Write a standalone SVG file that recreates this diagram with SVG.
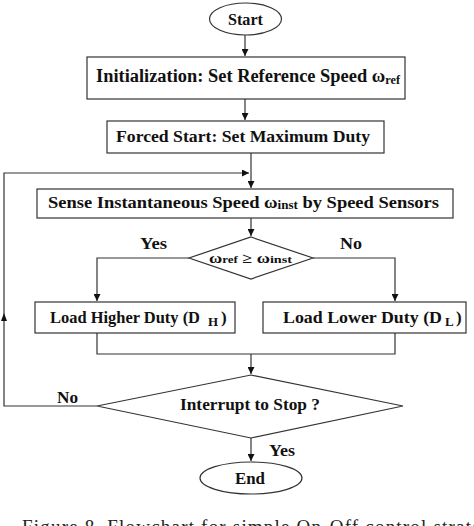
<svg xmlns="http://www.w3.org/2000/svg" width="474" height="526" viewBox="0 0 474 526">
<defs>
<marker id="ah" viewBox="0 0 10 10" refX="10" refY="5" markerWidth="7" markerHeight="7" markerUnits="userSpaceOnUse" orient="auto">
<path d="M0,0 L10,5 L0,10 z" fill="#111"/>
</marker>
<style>
.shape{fill:#fff;stroke:#333;stroke-width:1.2}
.line{fill:none;stroke:#333;stroke-width:1.2}
.t{font-family:"Liberation Serif","Times New Roman",serif;font-weight:bold;fill:#111}
.sub{font-size:12px}
.cap{font-family:"Liberation Serif","Times New Roman",serif;fill:#222;font-size:19px}
</style>
</defs>
<rect width="474" height="526" fill="#fff"/>
<g id="connectors">
<path class="line" d="M245,35 V56" marker-end="url(#ah)"/>
<path class="line" d="M245,99 V120" marker-end="url(#ah)"/>
<path class="line" d="M251,153 V188" marker-end="url(#ah)"/>
<path class="line" d="M251,218 V236" marker-end="url(#ah)"/>
<path class="line" d="M189,258 H97 V301" marker-end="url(#ah)"/>
<path class="line" d="M313,258 H395 V301" marker-end="url(#ah)"/>
<path class="line" d="M97,333 V354 H395 V333"/>
<path class="line" d="M251,354 V374" marker-end="url(#ah)"/>
<path class="line" d="M251,438 V461" marker-end="url(#ah)"/>
<path class="line" d="M97,406 H4 V173 H249" marker-end="url(#ah)"/>
<path d="M1,321 L4,313 L7,321 z" fill="#111"/>
</g>
<g id="start">
<ellipse class="shape" cx="245.5" cy="19" rx="36" ry="16"/>
<text class="t" x="228" y="25" font-size="16" textLength="35" lengthAdjust="spacingAndGlyphs">Start</text>
</g>
<g id="init">
<rect class="shape" x="87" y="57" width="318" height="42"/>
<text class="t" x="96" y="82" font-size="18" textLength="304" lengthAdjust="spacingAndGlyphs">Initialization:  Set Reference Speed ω<tspan class="sub" dy="2">ref</tspan></text>
</g>
<g id="forced">
<rect class="shape" x="107" y="121" width="277" height="32"/>
<text class="t" x="116" y="142" font-size="17" textLength="254" lengthAdjust="spacingAndGlyphs">Forced Start: Set Maximum Duty</text>
</g>
<g id="sense">
<rect class="shape" x="37" y="189" width="416" height="29"/>
<text class="t" x="48" y="208" font-size="17" textLength="391" lengthAdjust="spacingAndGlyphs">Sense Instantaneous Speed  ω<tspan class="sub" dy="1">inst</tspan><tspan dy="-1">  by Speed  Sensors</tspan></text>
</g>
<g id="compare">
<polygon class="shape" points="251,237 313,258 251,279 189,258"/>
<text class="t" x="209" y="263" font-size="14" textLength="83" lengthAdjust="spacingAndGlyphs">ω<tspan font-size="10">ref</tspan> ≥ ω<tspan font-size="11">inst</tspan></text>
</g>
<g id="yes1"><text class="t" x="140" y="249" font-size="17" textLength="27" lengthAdjust="spacingAndGlyphs">Yes</text></g>
<g id="no1"><text class="t" x="340" y="249" font-size="17" textLength="22" lengthAdjust="spacingAndGlyphs">No</text></g>
<g id="higher">
<rect class="shape" x="35" y="302" width="200" height="31"/>
<text class="t" x="50" y="323" font-size="17"><tspan textLength="150" lengthAdjust="spacingAndGlyphs">Load Higher Duty (D</tspan><tspan x="208" y="326" font-size="13">H</tspan><tspan x="221" y="323">)</tspan></text>
</g>
<g id="lower">
<rect class="shape" x="263" y="302" width="203" height="31"/>
<text class="t" x="283" y="323" font-size="17"><tspan textLength="159" lengthAdjust="spacingAndGlyphs">Load Lower Duty  (D</tspan><tspan x="445" y="326" font-size="13">L</tspan><tspan x="456" y="323">)</tspan></text>
</g>
<g id="interrupt">
<polygon class="shape" points="251,375 403,406 251,438 97,406"/>
<text class="t" x="180" y="410" font-size="16" textLength="140" lengthAdjust="spacingAndGlyphs">Interrupt to Stop ?</text>
</g>
<g id="no2"><text class="t" x="57" y="403" font-size="17" textLength="21" lengthAdjust="spacingAndGlyphs">No</text></g>
<g id="yes2"><text class="t" x="269" y="456" font-size="17" textLength="26" lengthAdjust="spacingAndGlyphs">Yes</text></g>
<g id="end">
<ellipse class="shape" cx="251" cy="478" rx="51" ry="16"/>
<text class="t" x="235" y="484" font-size="17" textLength="30" lengthAdjust="spacingAndGlyphs">End</text>
</g>
<text class="cap" x="22" y="533" textLength="480" lengthAdjust="spacing">Figure 8. Flowchart for simple On-Off control strategy</text>
</svg>
